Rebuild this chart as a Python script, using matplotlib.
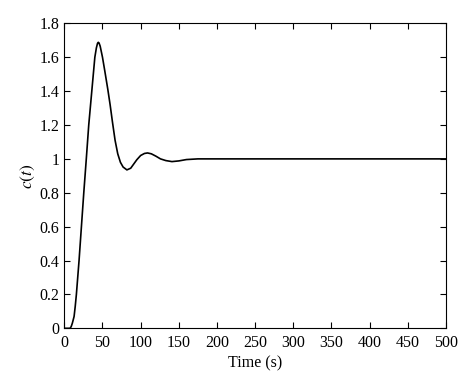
import numpy as np
import matplotlib
matplotlib.use("Agg")
import matplotlib.pyplot as plt
from matplotlib.ticker import FuncFormatter

plt.rcParams['font.family'] = ['Liberation Serif', 'DejaVu Serif']
plt.rcParams['mathtext.fontset'] = 'stix'

# step response
t = [0, 5, 7.5, 9, 10.5, 12.8, 14.3, 15.8, 19.3, 22.4, 25.5, 28.8, 32, 36, 40, 42, 43.5,
     44.5, 45.5, 47, 50, 53, 57, 60, 63, 66.5, 70, 73.5, 77, 82, 87, 91, 95, 100,
     105, 109, 114, 120, 126, 133, 141, 150, 160, 175, 200, 250, 500]
c = [0, 0, 0, 0.01, 0.03, 0.07, 0.13, 0.2, 0.4, 0.6, 0.8, 1.0, 1.2, 1.4, 1.6, 1.655, 1.682,
     1.688, 1.684, 1.665, 1.6, 1.52, 1.41, 1.32, 1.22, 1.11, 1.03, 0.98, 0.952, 0.935,
     0.945, 0.97, 0.995, 1.02, 1.032, 1.035, 1.03, 1.016, 1.0, 0.99, 0.984, 0.988, 0.996,
     1.0, 1.0, 1.0, 1.0]

fig = plt.figure(figsize=(4.74, 3.89), dpi=100)
ax = fig.add_axes([0.1357, 0.156, 0.805, 0.784])
ax.plot(t, c, color='black', linewidth=1.2)

ax.set_xlim(0, 500)
ax.set_ylim(0, 1.8)
ax.set_xticks(np.arange(0, 501, 50))
ax.set_yticks(np.arange(0, 1.81, 0.2))
ax.yaxis.set_major_formatter(FuncFormatter(lambda v, p: '%g' % round(v, 1)))
ax.tick_params(direction='in', top=True, right=True, labelsize=11.5, length=4)
ax.tick_params(axis='x', pad=5)
ax.set_xlabel('Time (s)', fontsize=11.5, labelpad=3)
ax.set_ylabel('$c(t)$', fontsize=12.5, labelpad=2)

fig.savefig("out.png", dpi=100)
